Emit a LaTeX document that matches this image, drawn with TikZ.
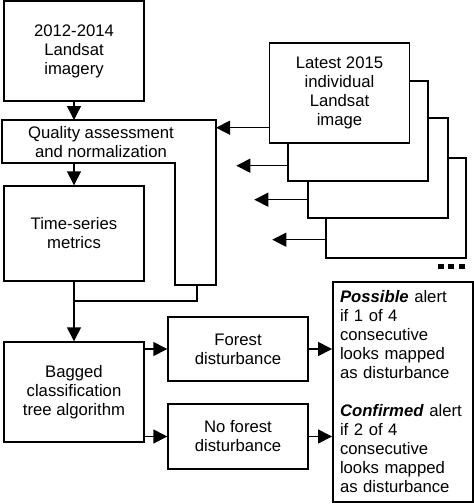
\documentclass[tikz,border=0pt]{standalone}
\usepackage{fontspec}
\setmainfont{Liberation Sans}
\usetikzlibrary{arrows.meta}

\begin{document}
\begin{tikzpicture}[x=1pt,y=-1pt,line width=1.4pt,
    every node/.style={font=\fontsize{16.7}{19}\selectfont},
    box/.style={draw,fill=white,align=center,minimum width=140pt,minimum height=100pt,inner sep=2pt},
    arr/.style={-{Triangle[length=14pt,width=14pt]}}]
        \useasboundingbox (0,0) rectangle (474,504);
        % 左侧方框
        \node [box] (imagery) at (74,51) {2012-2014\\Landsat\\imagery};
        \node [box,minimum height=95pt] (metrics) at (74,233.5) {Time-series\\metrics};
        \node [box] (bagged) at (74,392) {Bagged\\classification\\tree algorithm};
        % L形方框
        \coordinate (Q1) at (2,120);
        \coordinate (Q2) at (216,120);
        \coordinate (Q3) at (216,285);
        \coordinate (Q4) at (175,285);
        \coordinate (Q5) at (175,163);
        \coordinate (Q6) at (2,163);
        \draw (Q1) -- (Q2) -- (Q3) -- (Q4) -- (Q5) -- (Q6) -- cycle;
        \node [align=center] (quality) at (101,142) {Quality assessment\\and normalization};
        % 层叠的影像
        \node [box] (image4) at (396,208) {};
        \node [box] (image3) at (378,168) {};
        \node [box] (image2) at (358,131) {};
        \node [box] (latest) at (339.5,93) {Latest 2015\\individual\\Landsat\\image};
        \foreach \x in {441,451,462}
            \fill (\x-3,264) rectangle (\x+3,269);
        % 结果方框
        \node [box,minimum height=64pt] (forest) at (238,349) {Forest\\disturbance};
        \node [box,minimum height=65pt] (noforest) at (238,436.5) {No forest\\disturbance};
        \node [box,line width=1.9pt,align=left,text width=126pt,minimum height=220pt] (alert) at (403,392)
            {\textbf{\textit{Possible}} alert\\if 1 of 4\\consecutive\\looks mapped\\as disturbance\\[19pt]
             \textbf{\textit{Confirmed}} alert\\if 2 of 4\\consecutive\\looks mapped\\as disturbance};
        % 箭头
        \draw [arr] (imagery.south) -- (imagery.south |- Q1);
        \draw [arr] (imagery.south |- Q6) -- (metrics.north);
        \draw [arr] ([yshift=16pt]latest.south west) -- ([yshift=16pt]latest.south west -| Q2);
        \draw [arr] ([yshift=16pt]image2.south west) -- ++(-51,0);
        \draw [arr] ([yshift=19pt]image3.south west) -- ++(-53,0);
        \draw [arr] ([yshift=19pt]image4.south west) -- ++(-53,0);
        % 汇合到分类树
        \coordinate (L) at (197,285);
        \coordinate (J) at (74,301);
        \draw (metrics.south) -- (J) -- (J -| L) -- (L);
        \draw [arr] (J) -- (bagged.north);
        \draw [arr] (bagged.east |- forest.west) -- (forest.west);
        \draw [arr] (bagged.east |- noforest.west) -- (noforest.west);
        \draw [arr] (forest.east) -- (forest.east -| alert.west);
        \draw [arr] (noforest.east) -- (noforest.east -| alert.west);
    \end{tikzpicture}
\end{document}
